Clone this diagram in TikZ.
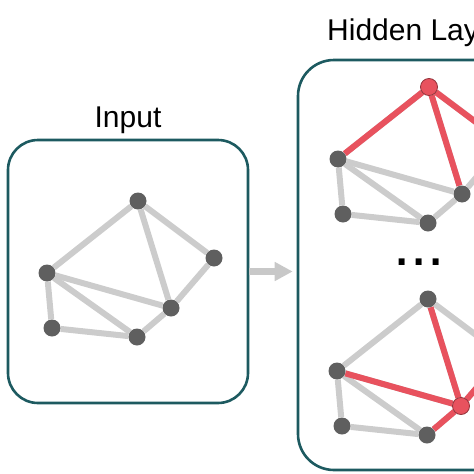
\documentclass[tikz,border=0pt]{standalone}
\usepackage{fontspec}
\setmainfont{Liberation Sans}
\usetikzlibrary{arrows.meta,backgrounds,positioning}
\definecolor{boxteal}{HTML}{1D5A60}
\definecolor{edgegray}{HTML}{CCCCCC}
\definecolor{vertgray}{HTML}{5F5F5F}
\definecolor{hotred}{HTML}{E8525E}
\definecolor{arrowgray}{HTML}{C8C8C8}

\begin{document}
\begin{tikzpicture}[x=1pt,y=-1pt,
    vert/.style={circle,fill=vertgray,inner sep=0pt,minimum size=17pt},
    hotvert/.style={vert,fill=hotred,draw=hotred!65!black,line width=0.8pt},
    link/.style={draw=edgegray,line width=6pt},
    hotlink/.style={draw=hotred,line width=6pt},
    panel/.style={draw=boxteal,line width=2.6pt,inner sep=0pt},
    title/.style={font=\fontsize{30}{30}\selectfont,inner sep=0pt,anchor=base}]
    \useasboundingbox (0,0) rectangle (474,474);
    \clip (0,0) rectangle (474,474);
    % panels and titles
    \node[panel,rounded corners=30pt,minimum width=240pt,minimum height=263pt] (inbox) at (128,271.5) {};
    \node[panel,rounded corners=36pt,minimum width=262pt,minimum height=410pt] (hidbox) at (429,265) {};
    \node[title] (intitle) at (128,127) {Input};
    \node[title,anchor=base west] (hidtitle) at (327,40) {Hidden Layer};
    \node[font=\fontsize{62}{62}\selectfont,inner sep=0pt,anchor=base] (dots) at (419,265) {...};
    % vertices of the three graphs
    \foreach \g/\dx/\dy in {in/0/0, top/291/-114, bot/290/98}
        \foreach \v/\x/\y in {a/138/201, b/214/258, c/47/273, d/171/308, e/52/328, f/137/337}
            \node[vert] (\g-\v) at (\x+\dx,\y+\dy) {};
    \node[hotvert] at (top-a) {};                                % highlighted vertex, top
    \node[hotvert] at (bot-d) {};                                % highlighted vertex, bottom
    % edges
    \begin{scope}[on background layer]
        \foreach \g in {in,top,bot}
            \foreach \p/\q in {a/c, a/d, a/b, b/d, c/d, c/f, c/e, e/f, f/d}
                \draw[link] (\g-\p) -- (\g-\q);
        \foreach \q in {c,d,b}
            \draw[hotlink] (top-a) -- (top-\q);                  % messages into top-a
        \foreach \q in {a,c,f,b}
            \draw[hotlink] (bot-d) -- (bot-\q);                  % messages into bot-d
    \end{scope}
    % arrow between panels
    \draw[arrowgray,line width=7pt,-{Triangle[width=18pt,length=18pt]},shorten >=4pt]
        (inbox.east) -- (inbox.east -| hidbox.west);
\end{tikzpicture}
\end{document}
